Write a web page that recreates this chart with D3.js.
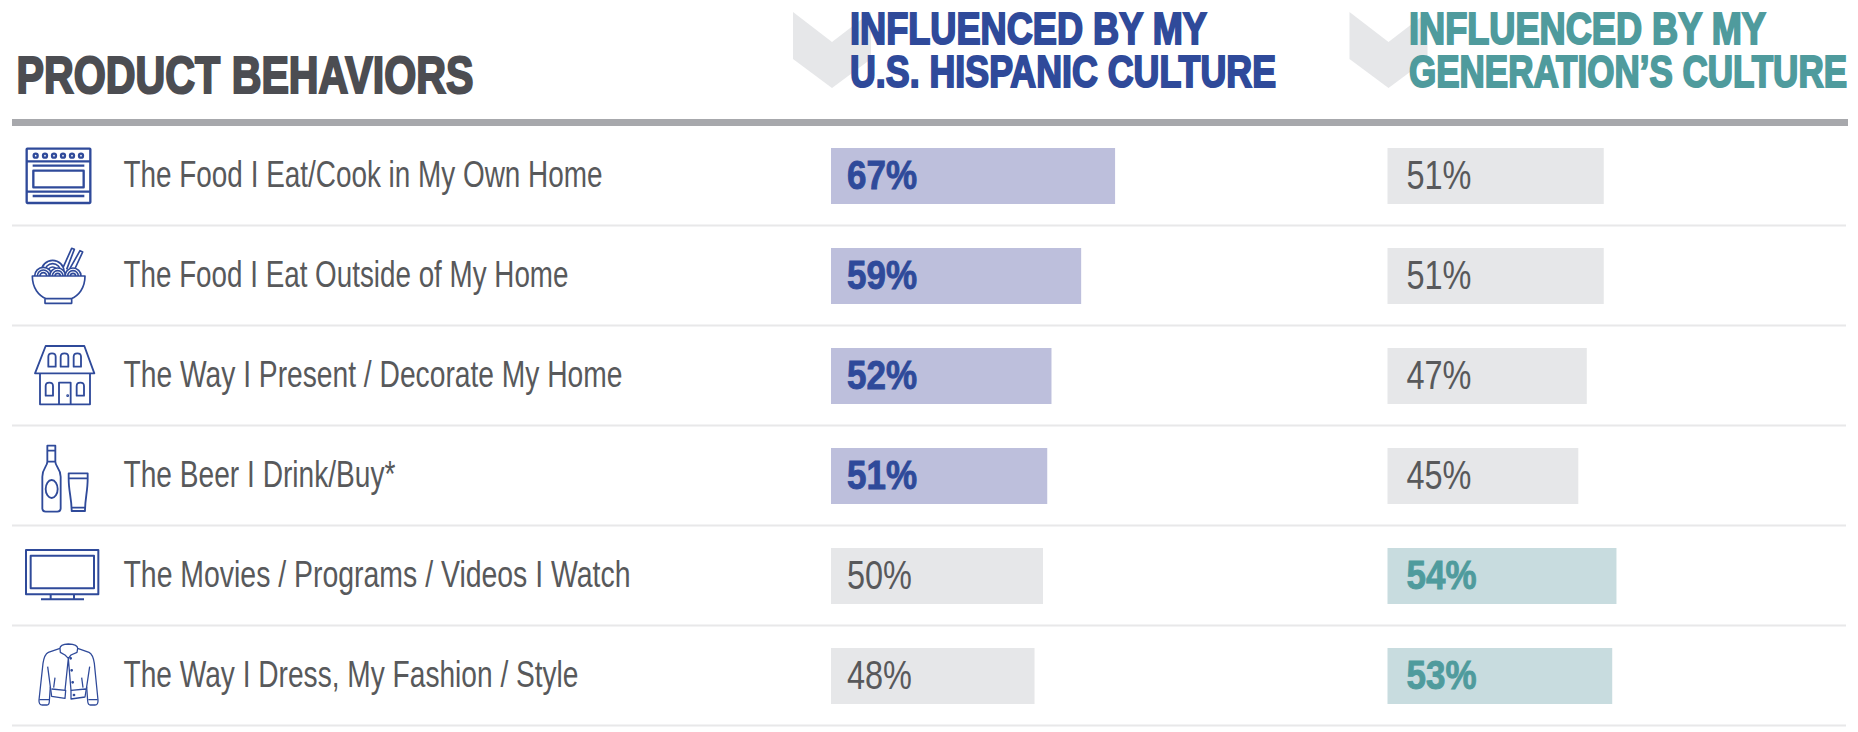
<!DOCTYPE html>
<html><head><meta charset="utf-8">
<script src="https://cdn.jsdelivr.net/npm/d3@7"></script>
<style>
html,body{margin:0;padding:0;background:#fff}
svg{display:block}
text{font-family:"Liberation Sans Narrow","Liberation Sans",sans-serif}
</style></head><body>
<svg id="c" width="1858" height="732"></svg>
<script>
const categories=["The Food I Eat/Cook in My Own Home","The Food I Eat Outside of My Home","The Way I Present / Decorate My Home","The Beer I Drink/Buy*","The Movies / Programs / Videos I Watch","The Way I Dress, My Fashion / Style"];
const iconNames=["oven","bowl","house","beer","tv","jacket"];
const hispanicValues=[67,59,52,51,50,48];
const generationValues=[51,51,47,45,54,53];
const columnTitle="PRODUCT BEHAVIORS";
const hispanicHeader=["INFLUENCED BY MY","U.S. HISPANIC CULTURE"];
const generationHeader=["INFLUENCED BY MY","GENERATION\u2019S CULTURE"];

const BLUE="#2f4a9a",TEAL="#4f9b9d",GREY="#58595b";
const svg=d3.select("#c");
const y=d3.scaleBand().domain(categories).range([126,726]);
const x=d3.scaleLinear().domain([0,100]).range([0,424]);
const col1=831,col2=1387.5;

function fit(sel,w){return sel.attr("textLength",w).attr("lengthAdjust","spacingAndGlyphs");}

function chevron(cx){
  svg.append("path").attr("fill","#e6e7e9")
    .attr("d",`M${cx-39},12L${cx},42L${cx+39},12V59L${cx},88L${cx-39},59Z`);
}
chevron(832);chevron(1388.5);
fit(svg.append("text").attr("x",16.5).attr("y",92.5).attr("font-size",52).attr("font-weight",700)
  .attr("fill","#4c4d52").attr("stroke","#4c4d52").attr("stroke-width",2.2).text(columnTitle),457);
function header(lines,xp,col,ws){
  lines.forEach((t,i)=>{
    fit(svg.append("text").attr("x",xp).attr("y",43.5+i*43).attr("font-size",45).attr("font-weight",700)
      .attr("fill",col).attr("stroke",col).attr("stroke-width",2).text(t),ws[i]);
  });
}
header(hispanicHeader,850,BLUE,[357,426]);
header(generationHeader,1409,TEAL,[357,438]);

svg.append("rect").attr("x",12).attr("y",119).attr("width",1836).attr("height",7).attr("fill","#a7a8ac");

const row=svg.selectAll("g.row").data(categories).join("g").attr("class","row")
  .attr("transform",d=>`translate(0,${y(d)})`);
row.append("line").attr("x1",12).attr("x2",1846).attr("y1",y.bandwidth()-0.5).attr("y2",y.bandwidth()-0.5)
  .attr("stroke","#e8e8e9").attr("stroke-width",2);
const labelW=[479,445,499,272,507,455];
row.append("text").attr("x",123.5).attr("y",61).attr("font-size",37).attr("fill",GREY)
  .text(d=>d).each(function(d,i){fit(d3.select(this),labelW[i]);});

function bars(values,other,cx,pad,hiFill,hiText){
  categories.forEach((c,i)=>{
    const hi=values[i]>other[i];
    const g=svg.append("g").attr("transform",`translate(${cx},${y(c)+22})`);
    g.append("rect").attr("width",x(values[i])).attr("height",56)
      .attr("fill",hi?hiFill:"#e6e7e9");
    fit(g.append("text").attr("x",pad).attr("y",41).attr("font-size",40)
      .attr("font-weight",hi?700:400).attr("fill",hi?hiText:GREY)
      .attr("stroke",hi?hiText:"none").attr("stroke-width",hi?0.9:0)
      .text(values[i]+"%"),hi?70:65);
  });
}
bars(hispanicValues,generationValues,col1,16,"#bdbfdc",BLUE);
bars(generationValues,hispanicValues,col2,19,"#c8dcdf",TEAL);

const icons={
 oven:{oy:140,sw:7,draw:g=>{
   g.append("rect").attr("x",35).attr("y",26).attr("width",191).attr("height",163).attr("rx",2);
   g.append("path").attr("d","M35,64H226M35,155H226M53,77H208M53,168H208");
   g.append("rect").attr("x",55).attr("y",92).attr("width",151).attr("height",50);
   [62,90,117,144,171,198].forEach(k=>g.append("circle").attr("cx",k).attr("cy",47).attr("r",6));
 }},
 bowl:{oy:140,sw:5,draw:g=>{
   g.append("path").attr("d","M143,385L170,325L178,328L155,388M165,385L195,332L203,336L178,390");
   [34,24,14].forEach((r,i)=>g.append("path").attr("fill",i==0?"#fff":"none").attr("d",`M${113-r},395A${r},${r} 0 0 1 ${113+r},395`));
   [[85,408,26],[128,408,24],[174,408,24]].forEach(([a,b,R])=>[R,R-8,R-16].forEach((r,i)=>g.append("path").attr("fill",i==0?"#fff":"none").attr("d",`M${a-r},${b}A${r},${r} 0 0 1 ${a+r},${b}`)));
   g.append("path").attr("fill","#fff").attr("d","M52,408H210C210,445 190,468 168,476H94C72,468 52,445 52,408Z");
   g.append("path").attr("d","M90,476V490H170V476");
 }},
 house:{oy:335,sw:5.5,draw:g=>{
   g.append("path").attr("d","M60,115L92,33H208L238,115Z");
   g.append("path").attr("d","M75,115V208H225V115M132,208V143H167V208");
   [[100,55,22,40],[137,55,23,40],[176,55,22,40],[92,143,22,39],[185,143,22,39]].forEach(([a,b,w,h])=>
     g.append("path").attr("d",`M${a},${b+h}V${b+10}Q${a},${b} ${a+w/2},${b}Q${a+w},${b} ${a+w},${b+10}V${b+h}Z`));
   g.append("circle").attr("cx",158).attr("cy",182).attr("r",1.5).attr("fill",BLUE);
 }},
 beer:{oy:335,sw:5.5,draw:g=>{
   g.append("path").attr("d","M97,332H121V347H97ZM97,347V380C97,395 82,400 82,425V520Q82,530 92,530H127Q137,530 137,520V425C137,400 121,395 121,380V347M97,380H121");
   g.append("ellipse").attr("cx",110).attr("cy",462).attr("rx",18).attr("ry",27);
   g.append("path").attr("d","M161,415H218L218,432C218,470 210,490 210,528H170C170,490 161,470 161,432ZM161,430H218M170,518H210");
 }},
 tv:{oy:535,sw:6,draw:g=>{
   g.append("rect").attr("x",33).attr("y",45).attr("width",217).attr("height",133);
   g.append("rect").attr("x",47).attr("y",62).attr("width",190).attr("height",98);
   g.append("path").attr("d","M107,178V192M177,178V192M78,193H207");
 }},
 jacket:{oy:535,sw:3.8,draw:g=>{
   g.append("path").attr("d","M135,340Q135,328 160,327Q188,328 188,340L186,352L168,360L160,370L150,360L136,352Z");
   g.append("path").attr("d","M135,340L100,352Q88,358 84,385L72,495Q71,510 82,510H96Q103,510 103,498L106,455L98,395");
   g.append("path").attr("d","M188,340L222,352Q234,358 238,385L249,495Q250,510 240,510H226Q219,510 218,498L215,455L224,395");
   g.append("path").attr("d","M106,455L110,484L150,490L152,466L110,462M215,455L210,486L168,492L168,466L212,462");
   g.append("path").attr("d","M160,370L150,466M160,370L168,466M73,494H102M220,494H248M120,428L116,458M200,428L204,458");
   [[167,370],[170,406],[173,442],[177,480]].forEach(([a,b])=>g.append("circle").attr("cx",a).attr("cy",b).attr("r",2.2).attr("fill",BLUE));
 }}
};
iconNames.forEach(n=>{
  const ic=icons[n];
  const g=svg.append("g").attr("transform",`translate(15,${ic.oy}) scale(${1/3})`)
    .attr("fill","none").attr("stroke",BLUE).attr("stroke-width",ic.sw).attr("stroke-linejoin","round");
  ic.draw(g);
});
</script></body></html>
